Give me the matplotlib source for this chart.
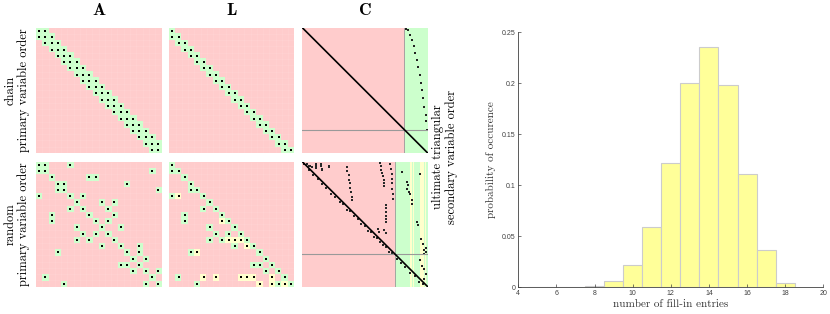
import numpy as np
import matplotlib
matplotlib.use("Agg")
import matplotlib.pyplot as plt

W, H = 830, 314

# ---- data -------------------------------------------------------------
n_vars = 20

# chain example: nonzero columns per row
chain_A = [[0, 1]] + [[i - 1, i, i + 1] for i in range(1, 19)] + [[18, 19]]
chain_L = [[0]] + [[i - 1, i] for i in range(1, 20)]

# random variable order: nonzero columns per row of A
rand_A = [[0, 1, 5], [0, 1, 18], [2, 8, 9], [3, 4, 14], [3, 4, 19],
          [0, 5, 7], [6, 10, 12], [5, 7, 11], [2, 8, 12], [2, 9, 11],
          [6, 10, 13], [7, 9, 11], [6, 8, 12], [10, 13, 16], [3, 14, 16],
          [15, 17], [13, 14, 16], [15, 17, 19], [1, 18], [4, 17, 19]]
# factor L: original entries and fill-in entries per row
rand_L_orig = [[0], [0, 1], [2], [3], [3, 4], [0, 5], [6], [5, 7], [2, 8],
               [2, 9], [6, 10], [7, 9, 11], [6, 8, 12], [10, 13], [3, 14],
               [15], [13, 14, 16], [15, 17], [1, 18], [4, 17, 19]]
rand_L_fill = [[], [], [], [], [], [1], [], [], [], [8], [], [],
               [9, 10, 11], [12], [4], [], [], [], [5, 7, 11, 12, 13, 16],
               [14, 16, 18]]

# secondary (ultimate triangular) matrices C
c_size = 210
chain_c_split = 171
rand_c_split = 155
rand_c_fill_cols = [163, 171, 180, 181, 182, 185, 188, 197, 198, 199, 200,
                    201, 202, 205, 206, 208]
chain_c_dots = [(173, 1), (176, 4), (180, 11), (183, 20), (187, 31), (189, 42),
                (192, 54), (194, 65), (197, 79), (199, 92), (200, 104),
                (202, 118), (204, 132), (206, 146), (207, 156), (209, 171)]
rand_c_dots = [(3, 3), (7, 4), (10, 6), (13, 7), (16, 8),
               (22, 4), (23, 7), (23, 10), (30, 4), (31, 7), (32, 11), (33, 14),
               (44, 6), (45, 8),
               (74, 8), (75, 15), (77, 22), (78, 30), (79, 36), (80, 43),
               (81, 50), (82, 58), (83, 64),
               (130, 2), (131, 7), (132, 13), (133, 18), (135, 24), (136, 30),
               (136, 35), (137, 41),
               (139, 73), (139, 78), (139, 84), (139, 90), (140, 95), (140, 101),
               (147, 4), (148, 11), (149, 20), (149, 28), (150, 36), (150, 45),
               (151, 53), (151, 62),
               (137, 115), (139, 119), (127, 112), (128, 118),
               (10, 14), (18, 22), (25, 28), (33, 37), (40, 43), (48, 53),
               (55, 58), (62, 67), (68, 71), (75, 80), (80, 82), (86, 91),
               (92, 95), (98, 104), (104, 107), (110, 116), (115, 118),
               (120, 126), (125, 128), (130, 134), (135, 140), (140, 143),
               (145, 151), (150, 153), (158, 163), (165, 170), (172, 176),
               (180, 186), (188, 191), (195, 201), (202, 205),
               (166, 17), (175, 34), (176, 39), (174, 45), (178, 50), (180, 53),
               (183, 64), (184, 70), (192, 101), (193, 106), (197, 20),
               (199, 130), (202, 137), (203, 148), (206, 144), (207, 151),
               (204, 154), (197, 165), (200, 174), (203, 179), (206, 188),
               (203, 196)]

# histogram of fill-in counts
fill_counts = [5, 6, 7, 8, 9, 10, 11, 12, 13, 14, 15, 16, 17, 18]
fill_probs = [0.0, 0.0, 0.0003, 0.0013, 0.0059, 0.0216, 0.0588, 0.1219,
              0.2003, 0.2360, 0.1987, 0.1114, 0.0363, 0.0046]

# ---- style ------------------------------------------------------------
pink = np.array([255, 204, 204]) / 255
green = np.array([204, 255, 204]) / 255
yellow = np.array([255, 255, 204]) / 255

fig = plt.figure(figsize=(W / 100, H / 100), dpi=100)


def px_axes(x0, y0, x1, y1):
    return fig.add_axes([x0 / W, 1 - y1 / H, (x1 - x0) / W, (y1 - y0) / H])


def draw_pattern(ax, green_rows, yellow_rows=None):
    img = np.ones((n_vars, n_vars, 3)) * pink
    rr, cc = [], []
    for r, cols in enumerate(green_rows):
        for c in cols:
            img[r, c] = green
            rr.append(r)
            cc.append(c)
    if yellow_rows is not None:
        for r, cols in enumerate(yellow_rows):
            for c in cols:
                img[r, c] = yellow
                rr.append(r)
                cc.append(c)
    ax.imshow(img, extent=(0, n_vars, n_vars, 0), interpolation="nearest",
              aspect="auto")
    ticks = np.arange(1, n_vars)
    ax.vlines(ticks, 0, n_vars, colors="white", alpha=0.12, lw=0.4)
    ax.hlines(ticks, 0, n_vars, colors="white", alpha=0.12, lw=0.4)
    ax.scatter(np.array(cc) + 0.5, np.array(rr) + 0.5, marker="s", s=2.5,
               c="k", linewidths=0)
    ax.set_xlim(0, n_vars)
    ax.set_ylim(n_vars, 0)
    ax.axis("off")


def draw_c(ax, split, dots, fill_cols=()):
    strip = np.ones((1, c_size, 3)) * pink
    strip[0, split:] = green
    for c in fill_cols:
        strip[0, c] = yellow
    ax.imshow(strip, extent=(0, c_size, c_size, 0), interpolation="nearest",
              aspect="auto")
    ax.vlines(np.arange(2, split, 2), 0, c_size, colors="white", alpha=0.1,
              lw=0.3)
    ax.axhline(split, color="#999999", lw=0.8)
    ax.axvline(split, color="#999999", lw=0.6)
    diag = np.arange(c_size) + 0.5
    ax.plot(diag, diag, color="k", lw=1.2)
    d = np.array(dots)
    ax.scatter(d[:, 0] + 0.5, d[:, 1] + 0.5, marker="s", s=0.6, c="#222222",
               linewidths=0)
    ax.set_xlim(0, c_size)
    ax.set_ylim(c_size, 0)
    ax.axis("off")


cols_px = [(36, 161.3), (169.3, 294.3), (302.3, 427.7)]
rows_px = [(27.7, 153), (161.7, 286.7)]

draw_pattern(px_axes(cols_px[0][0], rows_px[0][0], cols_px[0][1], rows_px[0][1]), chain_A)
draw_pattern(px_axes(cols_px[1][0], rows_px[0][0], cols_px[1][1], rows_px[0][1]), chain_L)
draw_c(px_axes(cols_px[2][0], rows_px[0][0], cols_px[2][1], rows_px[0][1]),
       chain_c_split, chain_c_dots)
draw_pattern(px_axes(cols_px[0][0], rows_px[1][0], cols_px[0][1], rows_px[1][1]), rand_A)
draw_pattern(px_axes(cols_px[1][0], rows_px[1][0], cols_px[1][1], rows_px[1][1]),
             rand_L_orig, rand_L_fill)
draw_c(px_axes(cols_px[2][0], rows_px[1][0], cols_px[2][1], rows_px[1][1]),
       rand_c_split, rand_c_dots, rand_c_fill_cols)

# titles and row labels
for (x0, x1), t in zip(cols_px, ["A", "L", "C"]):
    fig.text((x0 + x1) / 2 / W, 1 - 15.3 / H, t, family="cmb10", fontsize=12.5,
             ha="center", va="baseline")

for (y0, y1), t in zip(rows_px, ["chain", "random"]):
    yc = 1 - (y0 + y1) / 2 / H
    fig.text(11 / W, yc, t, family="cmr10", fontsize=9, rotation=90,
             ha="center", va="center")
    fig.text(24 / W, yc, "primary variable order", family="cmr10",
             fontsize=9, rotation=90, ha="center", va="center")

fig.text(438 / W, 1 - 157 / H, "ultimate triangular", family="cmr10",
         fontsize=9, rotation=90, ha="center", va="center")
fig.text(452 / W, 1 - 157 / H, "secondary variable order", family="cmr10",
         fontsize=9, rotation=90, ha="center", va="center")

# histogram
axh = px_axes(518.3, 32.3, 823.3, 287.3)
axh.bar(fill_counts, fill_probs, width=1, color="#FFFF99",
        edgecolor="#CCCCCC", linewidth=0.8)
axh.set_xlim(4, 20)
axh.set_ylim(0, 0.25)
axh.set_xticks(np.arange(4, 21, 2))
axh.set_yticks([0, 0.05, 0.1, 0.15, 0.2, 0.25])
axh.set_yticklabels(["0", "0.05", "0.1", "0.15", "0.2", "0.25"])
for s in ["top", "right"]:
    axh.spines[s].set_visible(False)
for s in ["left", "bottom"]:
    axh.spines[s].set_color("#404040")
    axh.spines[s].set_linewidth(0.6)
axh.tick_params(direction="in", length=2.5, width=0.5, colors="#404040",
                labelsize=5, pad=2)
for lab in axh.get_xticklabels() + axh.get_yticklabels():
    lab.set_family("Liberation Sans")
axh.set_xlabel("number of fill-in entries", family="cmr10", fontsize=8,
               color="#333333", labelpad=2)
axh.set_ylabel("probability of occurence", family="cmr10", fontsize=8,
               color="#333333", labelpad=4)

fig.savefig("out.png", dpi=100)
